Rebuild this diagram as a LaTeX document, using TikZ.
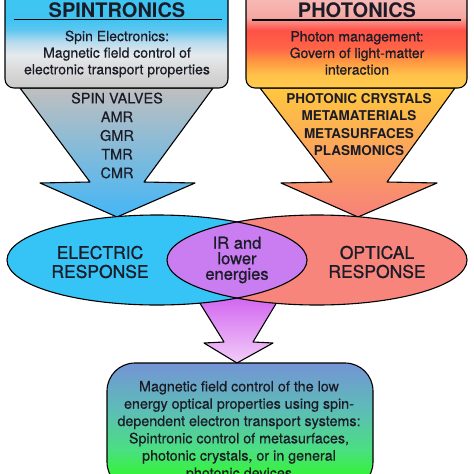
\documentclass[tikz,border=0pt]{standalone}
\usepackage{fontspec}
\setmainfont{TeX Gyre Heros}
\newfontfamily\medfont[FakeBold=0.5]{TeX Gyre Heros}
\newfontfamily\semifont[FakeBold=1.0]{TeX Gyre Heros}
\newcommand\myfs[2]{\fontsize{#1}{#2}\selectfont}
\definecolor{ink}{HTML}{1C1C28}
\definecolor{lbA}{HTML}{C9C9C9}
\definecolor{lbB}{HTML}{DADADA}
\definecolor{lbC}{HTML}{E6EAEC}
\definecolor{lbD}{HTML}{B8DCEE}
\definecolor{lbE}{HTML}{60C6F0}
\definecolor{lbF}{HTML}{40C4F2}
\definecolor{lbG}{HTML}{3CC6F2}
\definecolor{rbA}{HTML}{FFCB4E}
\definecolor{rbB}{HTML}{FFC24A}
\definecolor{rbC}{HTML}{FF9A42}
\definecolor{rbD}{HTML}{FF6446}
\definecolor{rbE}{HTML}{FF5248}
\definecolor{rbF}{HTML}{F6A8A2}
\definecolor{rbG}{HTML}{F8C4C2}
\definecolor{bbA}{HTML}{30F830}
\definecolor{bbB}{HTML}{36F23C}
\definecolor{bbC}{HTML}{4ADF80}
\definecolor{bbD}{HTML}{5DBDB6}
\definecolor{bbE}{HTML}{7494D6}
\definecolor{ellL}{HTML}{36C4F6}
\definecolor{ellR}{HTML}{F8857B}
\definecolor{lensC}{HTML}{C97DF0}
\pgfdeclareverticalshading{lboxshade}{100bp}{color(0bp)=(lbA); color(25bp)=(lbA); color(34bp)=(lbB); color(41.5bp)=(lbC); color(48bp)=(lbD); color(54bp)=(lbE); color(59bp)=(lbF); color(75bp)=(lbG); color(100bp)=(lbG)}
\pgfdeclareverticalshading{rboxshade}{100bp}{color(0bp)=(rbA); color(25bp)=(rbA); color(31.5bp)=(rbB); color(38bp)=(rbC); color(45bp)=(rbD); color(54bp)=(rbE); color(60.5bp)=(rbF); color(75bp)=(rbG); color(100bp)=(rbG)}
\pgfdeclareverticalshading{bboxshade}{100bp}{color(0bp)=(bbA); color(25bp)=(bbA); color(31.3bp)=(bbB); color(40.7bp)=(bbC); color(56.5bp)=(bbD); color(75bp)=(bbE); color(100bp)=(bbE)}
\tikzset{
  outline/.style={draw=black, line width=1.1pt, line join=round},
  txt/.style={text=ink, inner sep=0pt, align=center},
  boxtxt/.style={txt, font=\medfont\myfs{14}{16.6}},
  titletxt/.style={txt, font=\bfseries\myfs{20}{22}},
  listL/.style={txt, font=\medfont\myfs{14.5}{18.7}},
  listR/.style={txt, font=\bfseries\myfs{13.5}{17.5}},
  elltxt/.style={txt, font=\semifont\myfs{17.5}{19}},
  lenstxt/.style={txt, font=\semifont\myfs{16.5}{15.5}},
  bottxt/.style={txt, font=\medfont\myfs{14.3}{17.3}},
}
\begin{document}
\begin{tikzpicture}[x=1pt,y=-1pt]
\useasboundingbox (0,0) rectangle (474,474);
\clip (0,0) rectangle (474,474);
\fill[white] (0,0) rectangle (474,474);
% block arrows
\shade[outline, top color=lbA!95!black, middle color={rgb,255:red,152;green,196;blue,234}, bottom color={rgb,255:red,68;green,182;blue,246}]
  (20,88) -- (90,182) -- (40,183) -- (117,217) -- (195,183) -- (144,182) -- (213,88) -- cycle;
\shade[outline, top color={rgb,255:red,255;green,199;blue,62}, middle color={rgb,255:red,250;green,156;blue,98}, bottom color={rgb,255:red,247;green,128;blue,122}]
  (260,88) -- (332,182) -- (281,183) -- (358,217) -- (437,183) -- (387,182) -- (455,88) -- cycle;
\shade[outline, top color={rgb,255:red,207;green,94;blue,240}, middle color={rgb,255:red,228;green,154;blue,244}, bottom color={rgb,255:red,243;green,205;blue,248}]
  (193,292) -- (224,342) -- (204,343) -- (237,363) -- (273,343) -- (253,342) -- (283,292) -- cycle;
% ellipses
\fill[ellL] (157,260) ellipse [x radius=150pt, y radius=45pt];
\fill[ellR] (317,260) ellipse [x radius=150pt, y radius=45pt];
\begin{scope}
  \clip (157,260) ellipse [x radius=150pt, y radius=45pt];
  \fill[lensC] (317,260) ellipse [x radius=150pt, y radius=45pt];
\end{scope}
\draw[outline] (157,260) ellipse [x radius=150pt, y radius=45pt];
\draw[outline] (317,260) ellipse [x radius=150pt, y radius=45pt];
% boxes
\shade[outline, shading=lboxshade, rounded corners=9pt] (5,-12) rectangle (228,88);
\draw[outline] (14,19.5) -- (222,19.5);
\shade[outline, shading=rboxshade, rounded corners=9pt] (246,-12) rectangle (467,88);
\draw[outline] (252,20) -- (461,20);
\shade[outline, shading=bboxshade, rounded corners=28pt] (107,363) rectangle (373,490);
% texts
\node[titletxt] (t1) at (117,10.5) {SPINTRONICS};
\node[titletxt] (t2) at (357,10.5) {PHOTONICS};
\node[boxtxt] (b1) at (117,54) {Spin Electronics:\\Magnetic field control of\\electronic transport properties};
\node[boxtxt] (b2) at (357,53) {Photon management:\\Govern of light-matter\\interaction};
\node[listL] (l1) at (117,135.5) {SPIN VALVES\\AMR\\GMR\\TMR\\CMR};
\node[listR] (l2) at (359,124.5) {PHOTONIC CRYSTALS\\METAMATERIALS\\METASURFACES\\PLASMONICS};
\node[elltxt] (e1) at (100,262) {ELECTRIC\\RESPONSE};
\node[elltxt] (e2) at (377,262) {OPTICAL\\RESPONSE};
\node[lenstxt] (e3) at (237,260) {IR and\\lower\\energies};
\node[bottxt] (bt) at (239,431) {Magnetic field control of the low\\energy optical properties using spin-\\dependent electron transport systems:\\Spintronic control of metasurfaces,\\photonic crystals, or in general\\photonic devices};
\end{tikzpicture}
\end{document}
